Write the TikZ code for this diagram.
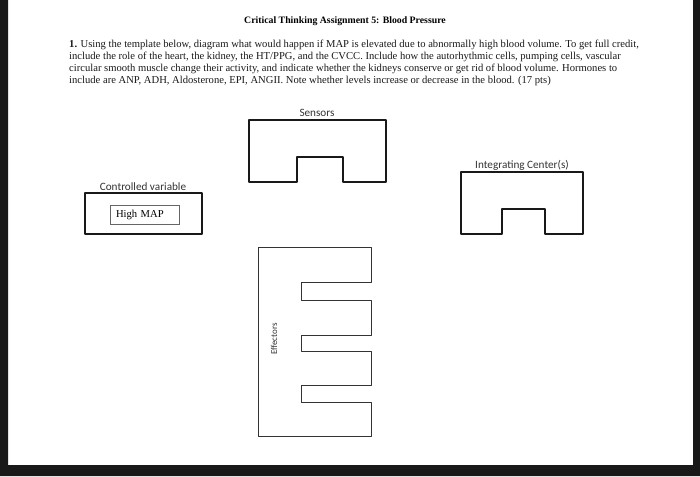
\documentclass[tikz,border=0pt]{standalone}
\usepackage{fontspec}
\setmainfont{Liberation Serif}
\setsansfont{Carlito}
\begin{document}
\begin{tikzpicture}[x=1pt, y=-1pt]
    % Define styles
    \tikzset{
        template/.style={
            draw=black!90,
            line width=1.4pt,
            line join=round
        },
        effector/.style={
            draw=black!80,
            line width=1pt,
            line join=round
        },
        caption/.style={
            font=\sffamily\fontsize{11.2}{12}\selectfont,
            text=black!80,
            inner sep=0pt
        },
        heading/.style={
            font=\bfseries\fontsize{9.8}{11}\selectfont,
            inner sep=0pt
        },
        bodyline/.style={
            font=\fontsize{10.6}{12}\selectfont,
            text=black!90,
            anchor=west,
            inner sep=0pt
        },
        valuebox/.style={
            draw=black!60,
            line width=0.7pt,
            text width=57pt,
            align=left,
            inner xsep=6pt,
            minimum height=19pt,
            inner ysep=0pt,
            font=\fontsize{10.6}{11}\selectfont
        }
    }

    % Page and frame
    \path[use as bounding box] (0,0) rectangle (700,476);
    \fill[black!90] (0,0) -- (8,0) -- (8,465) -- (693,465) -- (693,0) -- (700,0)
        -- (700,476) -- (0,476) -- cycle;

    % Assignment text
    \node[heading] (title) at (345,21) {Critical Thinking Assignment 5: Blood Pressure};
    \node[bodyline] (line1) at (69,45) {\textbf{1.} Using the template below, diagram what would happen if MAP is elevated due to abnormally high blood volume. To get full credit,};
    \node[bodyline] (line2) at (69,57) {include the role of the heart, the kidney, the HT/PPG, and the CVCC. Include how the autorhythmic cells, pumping cells, vascular};
    \node[bodyline] (line3) at (69,69) {circular smooth muscle change their activity, and indicate whether the kidneys conserve or get rid of blood volume. Hormones to};
    \node[bodyline] (line4) at (69,81) {include are ANP, ADH, Aldosterone, EPI, ANGII. Note whether levels increase or decrease in the blood. (17 pts)};

    % Sensors
    \node[caption] (sensors) at (317,113) {Sensors};
    \draw[template] (249,120) -- (386,120) -- (386,182) -- (343,182) -- (343,157)
        -- (297,157) -- (297,182) -- (249,182) -- cycle;

    % Integrating center
    \node[caption] (center) at (522,165) {Integrating Center(s)};
    \draw[template] (461,172) -- (583,172) -- (583,234) -- (545,234) -- (545,209)
        -- (502,209) -- (502,234) -- (461,234) -- cycle;

    % Controlled variable
    \node[caption] (controlled) at (143,187) {Controlled variable};
    \draw[template, line width=1.1pt] (85,193) rectangle (202,234);
    \node[valuebox] (highmap) at (144.5,215) {High MAP};

    % Effectors
    \node[caption, rotate=90, font=\sffamily\fontsize{9}{10}\selectfont] (effectors) at (274,339) {Effectors};
    \draw[effector] (258,247) -- (371,247) -- (371,282) -- (301,282) -- (301,300)
        -- (371,300) -- (371,335) -- (301,335) -- (301,351) -- (371,351) -- (371,385)
        -- (301,385) -- (301,402) -- (371,402) -- (371,436) -- (258,436) -- cycle;
\end{tikzpicture}
\end{document}
